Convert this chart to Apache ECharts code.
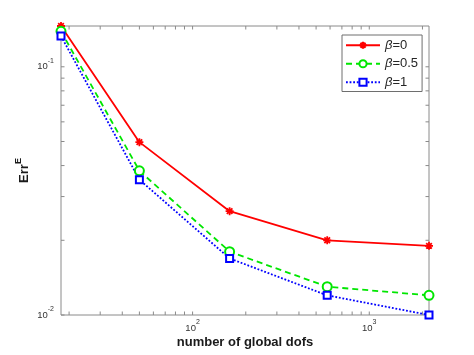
<!DOCTYPE html>
<html>
<head>
<meta charset="utf-8">
<script src="https://cdn.jsdelivr.net/npm/echarts@6/dist/echarts.min.js"></script>
<style>
  html, body { margin: 0; padding: 0; background: #fff; }
  #chart { width: 474px; height: 355px; }
</style>
</head>
<body>
<div id="chart"></div>
<script>
// ---- data ----
const dofs = [18, 50, 162, 578, 2178];
const errBeta0 = [0.146, 0.0497, 0.0262, 0.0200, 0.0190];
const errBeta05 = [0.139, 0.0381, 0.0180, 0.0130, 0.0120];
const errBeta1 = [0.133, 0.0351, 0.0169, 0.0120, 0.0100];
const seriesNames = ['β=0', 'β=0.5', 'β=1'];

const xMin = 18, xMax = 2178;
const yMin = 0.01, yMax = 0.146;
const xMajorTicks = [100, 1000];
const xMinorTicks = [20, 30, 40, 50, 60, 70, 80, 90, 200, 300, 400, 500, 600, 700, 800, 900, 2000];
const yMajorTicks = [0.01, 0.1];
const yMinorTicks = [0.02, 0.03, 0.04, 0.05, 0.06, 0.07, 0.08, 0.09];

const FONT = '"Liberation Sans", Arial, sans-serif';
const TICK_LEN = 3.5;
const AXIS_COLOR = '#8a8a8a';

function powLabel(v) {
  const lg = Math.log10(v);
  const e = Math.round(lg);
  if (Math.abs(lg - e) > 1e-6) return '';
  return '{b|10}{s|' + e + '}';
}
const labelRich = {
  b: { fontSize: 9.5, fontFamily: FONT, color: '#333', lineHeight: 10, verticalAlign: 'bottom' },
  s: { fontSize: 7, fontFamily: FONT, color: '#333', lineHeight: 7, padding: [0, 0, 7, 0], verticalAlign: 'bottom' }
};

function seg(x1, y1, x2, y2) {
  return { type: 'line', shape: { x1, y1, x2, y2 }, style: { stroke: AXIS_COLOR, lineWidth: 1 } };
}

function tickSeries(values, dir) {
  return {
    type: 'custom',
    silent: true,
    clip: false,
    z: 1,
    data: values.map(v => dir === 'x' ? [v, yMin] : [xMin, v]),
    renderItem: function (params, api) {
      if (dir === 'x') {
        const v = api.value(0);
        const b = api.coord([v, yMin]);
        const t = api.coord([v, yMax]);
        return { type: 'group', children: [
          seg(b[0], b[1], b[0], b[1] - TICK_LEN),
          seg(t[0], t[1], t[0], t[1] + TICK_LEN)
        ] };
      } else {
        const v = api.value(1);
        const l = api.coord([xMin, v]);
        const r = api.coord([xMax, v]);
        return { type: 'group', children: [
          seg(l[0], l[1], l[0] + TICK_LEN, l[1]),
          seg(r[0], r[1], r[0] - TICK_LEN, r[1])
        ] };
      }
    }
  };
}

function pairs(ys) { return dofs.map((x, i) => [x, ys[i]]); }

const asterisk = 'path://M0,-10L0,10M-10,0L10,0M-7,-7L7,7M-7,7L7,-7';

const chart = echarts.init(document.getElementById('chart'), null, { renderer: 'canvas' });
chart.setOption({
  animation: false,
  backgroundColor: '#fff',
  grid: {
    left: 61, right: 45, top: 26, bottom: 40,
    show: true, borderColor: AXIS_COLOR, borderWidth: 1, backgroundColor: '#fff'
  },
  legend: {
    data: seriesNames,
    orient: 'vertical',
    left: 342, top: 35,
    padding: [3, 4, 2, 3],
    itemGap: 4,
    itemWidth: 34, itemHeight: 9,
    borderColor: '#6e6e6e', borderWidth: 1,
    backgroundColor: '#fff',
    formatter: name => '{i|β}' + name.slice(1),
    textStyle: {
      fontFamily: FONT, fontSize: 13, color: '#262626', lineHeight: 14.5,
      rich: { i: { fontFamily: FONT, fontSize: 13, fontStyle: 'italic', color: '#262626', lineHeight: 14.5 } }
    }
  },
  xAxis: {
    type: 'log', logBase: 10, min: xMin, max: xMax,
    name: 'number of global dofs',
    nameLocation: 'middle', nameGap: 21, nameMoveOverlap: false,
    nameTextStyle: { fontFamily: FONT, fontSize: 13, fontWeight: 'bold', color: '#1a1a1a' },
    axisLine: { show: false },
    axisTick: { show: false },
    splitLine: { show: false },
    minorTick: { show: false },
    axisLabel: { formatter: powLabel, rich: labelRich, margin: 8, showMinLabel: true, showMaxLabel: true, hideOverlap: false }
  },
  yAxis: {
    type: 'log', logBase: 10, min: yMin, max: yMax,
    name: '{b|Err}{s|E}',
    nameLocation: 'middle', nameGap: 30, nameMoveOverlap: false,
    nameTextStyle: {
      rich: {
        b: { fontFamily: FONT, fontSize: 13, fontWeight: 'bold', color: '#1a1a1a', lineHeight: 14, verticalAlign: 'bottom' },
        s: { fontFamily: FONT, fontSize: 9, fontWeight: 'bold', color: '#1a1a1a', lineHeight: 10, padding: [0, 0, 8, 0], verticalAlign: 'bottom' }
      }
    },
    axisLine: { show: false },
    axisTick: { show: false },
    splitLine: { show: false },
    axisLabel: { formatter: powLabel, rich: labelRich, margin: 7, showMinLabel: true, showMaxLabel: true, hideOverlap: false }
  },
  series: [
    {
      name: seriesNames[0], type: 'line', data: pairs(errBeta0), z: 3,
      symbol: asterisk, symbolSize: 8,
      lineStyle: { color: '#ff0000', width: 1.8, type: 'solid' },
      itemStyle: { color: '#ff0000', borderColor: '#ff0000', borderWidth: 1.8 }
    },
    {
      name: seriesNames[1], type: 'line', data: pairs(errBeta05), z: 3,
      symbol: 'emptyCircle', symbolSize: 9,
      lineStyle: { color: '#00e600', width: 1.8, type: [6, 4] },
      itemStyle: { color: '#00e600', borderColor: '#00e600', borderWidth: 1.5 }
    },
    {
      name: seriesNames[2], type: 'line', data: pairs(errBeta1), z: 3,
      symbol: 'emptyRect', symbolSize: 7,
      lineStyle: { color: '#0000ff', width: 1.8, type: [1.8, 1.8] },
      itemStyle: { color: '#0000ff', borderColor: '#0000ff', borderWidth: 1.2 }
    },
    tickSeries(xMajorTicks.concat(xMinorTicks), 'x'),
    tickSeries(yMajorTicks.concat(yMinorTicks), 'y')
  ]
});
</script>
</body>
</html>
